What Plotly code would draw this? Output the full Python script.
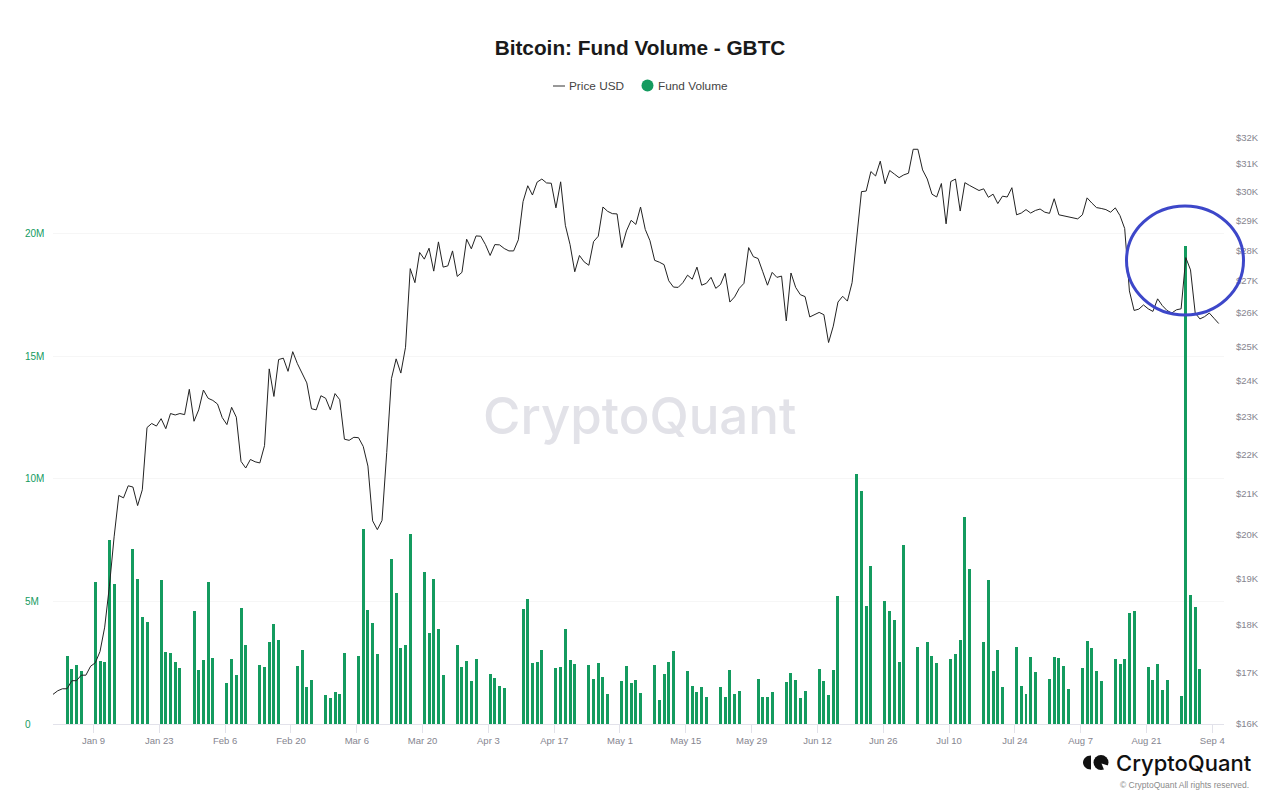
#!/usr/bin/env python
# -*- coding: utf-8 -*-

"""Bitcoin: Fund Volume - GBTC, price line over daily fund volume bars."""

import pandas as pd
import plotly.graph_objs as go

# daily BTC price in USD, one value per day from 2022-12-31
price_dec = [16570]
price_jan = [16640, 16680, 16680, 16840, 16840, 16950, 16950, 17130, 17200, 17430, 17940,
             18830, 19960, 20960, 20900, 21200, 21170, 20710, 21100, 22710, 22820, 22750,
             22950, 22680, 23090, 23050, 23090, 23060, 23760, 22880, 23190]
price_feb = [23740, 23510, 23450, 23350, 22980, 22790, 23260, 22990, 21820, 21650, 21870,
             21810, 21780, 22230, 24340, 23560, 24610, 24650, 24270, 24840, 24490, 24220,
             23940, 23220, 23190, 23580, 23510, 23190]
price_mar = [23640, 23470, 22400, 22370, 22450, 22440, 22210, 21700, 20340, 20130, 20350,
             22050, 24060, 24630, 24220, 24970, 27400, 26950, 27930, 27710, 28070, 27320,
             28280, 27450, 27490, 27980, 27150, 27280, 28370, 28050, 28480]
price_apr = [28470, 28190, 27830, 28190, 28180, 28060, 27980, 27980, 28350, 29660, 30220,
             29890, 30350, 30460, 30320, 30310, 29440, 30360, 28840, 28190, 27300, 27830,
             27620, 27510, 28290, 28470, 29470, 29320, 29240, 29230]
price_may = [28090, 28650, 29010, 28870, 29470, 28700, 28320, 27670, 27610, 27530, 27010,
             26810, 26800, 26950, 27190, 27060, 27450, 26870, 26930, 27120, 26770, 26890,
             27250, 26340, 26500, 26770, 26930, 28090, 27790, 27730, 27300]
price_jun = [26870, 27280, 27120, 27160, 25760, 27260, 26800, 26570, 26510, 25880, 25950,
             26020, 25950, 25110, 25600, 26340, 26520, 26370, 26950, 28470, 30010, 30030,
             30730, 30570, 31110, 30290, 30770, 30640, 30510, 30610]
price_jul = [30670, 31550, 31550, 30790, 30460, 29920, 29820, 30300, 28890, 30370, 30460,
             29330, 30330, 30230, 30140, 30050, 30110, 29810, 29920, 29590, 29850, 29820,
             30150, 29200, 29260, 29380, 29260, 29350, 29400, 29290, 29250]
price_aug = [29760, 29200, 29170, 29130, 29110, 29060, 29200, 29790, 29610, 29450, 29420,
             29380, 29290, 29440, 29170, 28730, 26690, 26080, 26120, 26250, 26130, 26050,
             26440, 26230, 26080, 26000, 26100, 26130, 27760, 27360, 26000]
price_sep = [25820, 25890, 26000, 25840, 25680]

# fund volume only exists on trading days
fund_dates = [
    "2023-01-03", "2023-01-04", "2023-01-05", "2023-01-06",
    "2023-01-09", "2023-01-10", "2023-01-11", "2023-01-12", "2023-01-13",
    "2023-01-17", "2023-01-18", "2023-01-19", "2023-01-20",
    "2023-01-23", "2023-01-24", "2023-01-25", "2023-01-26", "2023-01-27",
    "2023-01-30", "2023-01-31", "2023-02-01", "2023-02-02", "2023-02-03",
    "2023-02-06", "2023-02-07", "2023-02-08", "2023-02-09", "2023-02-10",
    "2023-02-13", "2023-02-14", "2023-02-15", "2023-02-16", "2023-02-17",
    "2023-02-21", "2023-02-22", "2023-02-23", "2023-02-24",
    "2023-02-27", "2023-02-28", "2023-03-01", "2023-03-02", "2023-03-03",
    "2023-03-06", "2023-03-07", "2023-03-08", "2023-03-09", "2023-03-10",
    "2023-03-13", "2023-03-14", "2023-03-15", "2023-03-16", "2023-03-17",
    "2023-03-20", "2023-03-21", "2023-03-22", "2023-03-23", "2023-03-24",
    "2023-03-27", "2023-03-28", "2023-03-29", "2023-03-30", "2023-03-31",
    "2023-04-03", "2023-04-04", "2023-04-05", "2023-04-06",
    "2023-04-10", "2023-04-11", "2023-04-12", "2023-04-13", "2023-04-14",
    "2023-04-17", "2023-04-18", "2023-04-19", "2023-04-20", "2023-04-21",
    "2023-04-24", "2023-04-25", "2023-04-26", "2023-04-27", "2023-04-28",
    "2023-05-01", "2023-05-02", "2023-05-03", "2023-05-04", "2023-05-05",
    "2023-05-08", "2023-05-09", "2023-05-10", "2023-05-11", "2023-05-12",
    "2023-05-15", "2023-05-16", "2023-05-17", "2023-05-18", "2023-05-19",
    "2023-05-22", "2023-05-23", "2023-05-24", "2023-05-25", "2023-05-26",
    "2023-05-30", "2023-05-31", "2023-06-01", "2023-06-02",
    "2023-06-05", "2023-06-06", "2023-06-07", "2023-06-08", "2023-06-09",
    "2023-06-12", "2023-06-13", "2023-06-14", "2023-06-15", "2023-06-16",
    "2023-06-20", "2023-06-21", "2023-06-22", "2023-06-23",
    "2023-06-26", "2023-06-27", "2023-06-28", "2023-06-29", "2023-06-30",
    "2023-07-03", "2023-07-05", "2023-07-06", "2023-07-07",
    "2023-07-10", "2023-07-11", "2023-07-12", "2023-07-13", "2023-07-14",
    "2023-07-17", "2023-07-18", "2023-07-19", "2023-07-20", "2023-07-21",
    "2023-07-24", "2023-07-25", "2023-07-26", "2023-07-27", "2023-07-28",
    "2023-07-31", "2023-08-01", "2023-08-02", "2023-08-03", "2023-08-04",
    "2023-08-07", "2023-08-08", "2023-08-09", "2023-08-10", "2023-08-11",
    "2023-08-14", "2023-08-15", "2023-08-16", "2023-08-17", "2023-08-18",
    "2023-08-21", "2023-08-22", "2023-08-23", "2023-08-24", "2023-08-25",
    "2023-08-28", "2023-08-29", "2023-08-30", "2023-08-31", "2023-09-01",
]

# millions of USD, same order as fund_dates
fund_volume = [
    2.79, 2.23, 2.39, 2.15,
    5.81, 2.57, 2.54, 7.51, 5.71,
    7.14, 5.90, 4.35, 4.16,
    5.86, 2.94, 2.88, 2.52, 2.27,
    4.61, 2.20, 2.60, 5.78, 2.69,
    1.66, 2.64, 1.99, 4.73, 3.24,
    2.42, 2.34, 3.33, 4.07, 3.43,
    2.35, 3.03, 1.51, 1.81,
    1.17, 1.05, 1.32, 1.22, 2.91,
    2.79, 7.96, 4.64, 4.12, 2.87,
    6.72, 5.35, 3.09, 3.24, 7.76,
    6.18, 3.70, 5.93, 3.88, 2.00,
    3.24, 2.34, 2.57, 1.74, 2.64,
    2.05, 1.86, 1.54, 1.48,
    4.68, 5.10, 2.48, 2.54, 3.01,
    2.27, 2.34, 3.89, 2.63, 2.44,
    2.42, 1.85, 2.48, 1.90, 1.21,
    1.76, 2.35, 1.67, 1.81, 1.25,
    2.42, 0.99, 2.03, 2.52, 2.97,
    2.15, 1.56, 1.32, 1.50, 1.09,
    1.50, 1.09, 2.20, 1.24, 1.36,
    1.84, 1.09, 1.09, 1.29,
    1.73, 2.10, 1.78, 1.05, 1.33,
    2.23, 1.74, 1.17, 2.20, 5.22,
    10.19, 9.52, 4.83, 6.44,
    5.03, 4.59, 4.24, 2.52, 7.32,
    3.16, 3.36, 2.76, 2.48,
    2.67, 2.87, 3.43, 8.46, 6.33,
    3.33, 5.86, 2.15, 3.03, 1.51,
    3.16, 1.56, 1.21, 2.72, 2.11,
    1.85, 2.72, 2.69, 2.35, 1.44,
    2.30, 3.37, 3.09, 2.18, 1.74,
    2.67, 2.46, 2.67, 4.52, 4.59,
    2.33, 1.81, 2.46, 1.39, 1.78,
    1.14, 19.51, 5.25, 4.76, 2.23,
]

x_tick_dates = ["2023-01-09", "2023-01-23", "2023-02-06", "2023-02-20", "2023-03-06", "2023-03-20",
                "2023-04-03", "2023-04-17", "2023-05-01", "2023-05-15", "2023-05-29", "2023-06-12",
                "2023-06-26", "2023-07-10", "2023-07-24", "2023-08-07", "2023-08-21", "2023-09-04"]
x_tick_labels = ["Jan 9", "Jan 23", "Feb 6", "Feb 20", "Mar 6", "Mar 20", "Apr 3", "Apr 17", "May 1",
                 "May 15", "May 29", "Jun 12", "Jun 26", "Jul 10", "Jul 24", "Aug 7", "Aug 21", "Sep 4"]
volume_ticks = [0, 5, 10, 15, 20]
volume_labels = ["0", "5M", "10M", "15M", "20M"]
price_ticks = [16000 + 1000 * i for i in range(17)]
price_labels = ["$%dK" % (t // 1000) for t in price_ticks]

GREEN = "#149b5f"
GREY = "#85858f"
FONT = "Liberation Sans"

# the browser body has an 8px margin, the plot box below is in page pixels
PAGE_OFFSET = 8
FIG_W, FIG_H = 1264, 790
PLOT_L, PLOT_R, PLOT_T, PLOT_B = 53, 1224, 111, 724


def px(x):
    return (x - PLOT_L) / (PLOT_R - PLOT_L)


def py(y):
    return (PLOT_B - y) / (PLOT_B - PLOT_T)


def add_text(fig, x, y, text, size, color, xanchor="left", family=FONT, weight="normal"):
    fig.add_annotation(xref="paper", yref="paper", x=px(x), y=py(y), text=text, showarrow=False,
                       xanchor=xanchor, yanchor="middle", borderpad=0,
                       font=dict(family=family, size=size, color=color, weight=weight))


def add_overlays(fig):
    # legend drawn by hand, short dash and round dot like the original
    fig.add_shape(type="line", xref="paper", yref="paper", x0=px(553), x1=px(565), y0=py(86), y1=py(86),
                  line=dict(color="#333333", width=1))
    add_text(fig, 568, 86, "Price USD", 11.8, "#444444")
    fig.add_shape(type="circle", xref="paper", yref="paper", x0=px(641.5), x1=px(653.5), y0=py(79.5), y1=py(91.5),
                  fillcolor=GREEN, line=dict(width=0))
    add_text(fig, 657, 86, "Fund Volume", 11.8, "#444444")

    # watermark and bottom right brand
    add_text(fig, 639, 415, "CryptoQuant", 51, "#e2e2e8", xanchor="center", family="Inter", weight=500)
    add_text(fig, 1115, 762.5, "CryptoQuant", 22, "#111111", family="Inter", weight=500)
    add_text(fig, 1250, 785, "© CryptoQuant All rights reserved.", 8.5, "#8a8a8a", xanchor="right")

    left_half = "M %f,%f C %f,%f %f,%f %f,%f C %f,%f %f,%f %f,%f Z" % (
        px(1091), py(755.5), px(1086), py(755.5), px(1083), py(759), px(1083), py(762.5),
        px(1083), py(766), px(1086), py(769.5), px(1091), py(769.5))
    fig.add_shape(type="path", xref="paper", yref="paper", path=left_half, fillcolor="#111111", line=dict(width=0))
    fig.add_shape(type="circle", xref="paper", yref="paper", x0=px(1093.5), x1=px(1108.5), y0=py(755), y1=py(770),
                  fillcolor="#111111", line=dict(width=0))
    notch = "M %f,%f L %f,%f L %f,%f Z" % (px(1101.5), py(763.5), px(1109.5), py(766), px(1104.5), py(771))
    fig.add_shape(type="path", xref="paper", yref="paper", path=notch, fillcolor="white", line=dict(width=0))

    # the blue ring around the spike
    fig.add_shape(type="circle", xref="paper", yref="paper", x0=px(1126.5), x1=px(1243.5), y0=py(206), y1=py(315),
                  line=dict(color="#3d47c9", width=3), layer="above")


def create_chart():
    price = price_dec + price_jan + price_feb + price_mar + price_apr + price_may + price_jun + price_jul + price_aug + price_sep
    # points sit a bit after the tick of their day
    price_x = pd.date_range("2022-12-31 09:00", periods=len(price), freq="D")
    fund_x = pd.to_datetime(fund_dates) + pd.Timedelta(hours=9)

    fig = go.Figure()
    fig.add_trace(go.Bar(x=fund_x, y=[v * 1e6 for v in fund_volume], name="Fund Volume",
                         marker=dict(color=GREEN, line=dict(width=0), cornerradius=1),
                         width=55000000, yaxis="y", showlegend=False))
    fig.add_trace(go.Scatter(x=price_x, y=price, mode="lines", name="Price USD",
                             line=dict(color="#222222", width=1), yaxis="y2", showlegend=False))

    fig.update_layout(
        width=FIG_W,
        height=FIG_H,
        margin=dict(l=PLOT_L - PAGE_OFFSET, r=FIG_W + PAGE_OFFSET - PLOT_R, t=PLOT_T - PAGE_OFFSET,
                    b=FIG_H + PAGE_OFFSET - PLOT_B, autoexpand=False),
        paper_bgcolor="white",
        plot_bgcolor="white",
        font=dict(family=FONT),
        title=dict(text="<b>Bitcoin: Fund Volume - GBTC</b>", x=0.5, xanchor="center", y=1 - 40 / FIG_H,
                   yanchor="middle", font=dict(family=FONT, size=20.8, color="#1a1a1a")),
        xaxis=dict(type="date", range=["2022-12-31 09:00", "2023-09-06 12:00"], tickmode="array",
                   tickvals=x_tick_dates, ticktext=x_tick_labels, showgrid=False, zeroline=False,
                   showline=True, linecolor="#e2e2ea", linewidth=1, ticks="outside", ticklen=8,
                   tickcolor="#e2e2ea", tickfont=dict(family=FONT, size=9.5, color=GREY)),
        yaxis=dict(range=[0, 25e6], tickmode="array", tickvals=[v * 1e6 for v in volume_ticks + [25]],
                   showticklabels=False, showgrid=True, gridcolor="#f6f6f6", gridwidth=1, zeroline=False),
        yaxis2=dict(type="log", range=[4.20412, 4.51864], overlaying="y", side="right", tickmode="array",
                    tickvals=price_ticks, ticktext=price_labels, showgrid=False, zeroline=False,
                    ticklabelstandoff=11, tickfont=dict(family=FONT, size=9.5, color=GREY)),
        bargap=0,
    )

    # volume labels are left aligned in the original, so they are placed by hand
    for val, label in zip(volume_ticks, volume_labels):
        fig.add_annotation(xref="paper", yref="y", x=px(23), y=val * 1e6, text=label, showarrow=False,
                           xanchor="left", yanchor="middle", font=dict(family=FONT, size=10, color=GREEN))

    add_overlays(fig)
    return fig


def main():
    fig = create_chart()
    fig.write_html("out.html")


if __name__ == "__main__":
    main()
